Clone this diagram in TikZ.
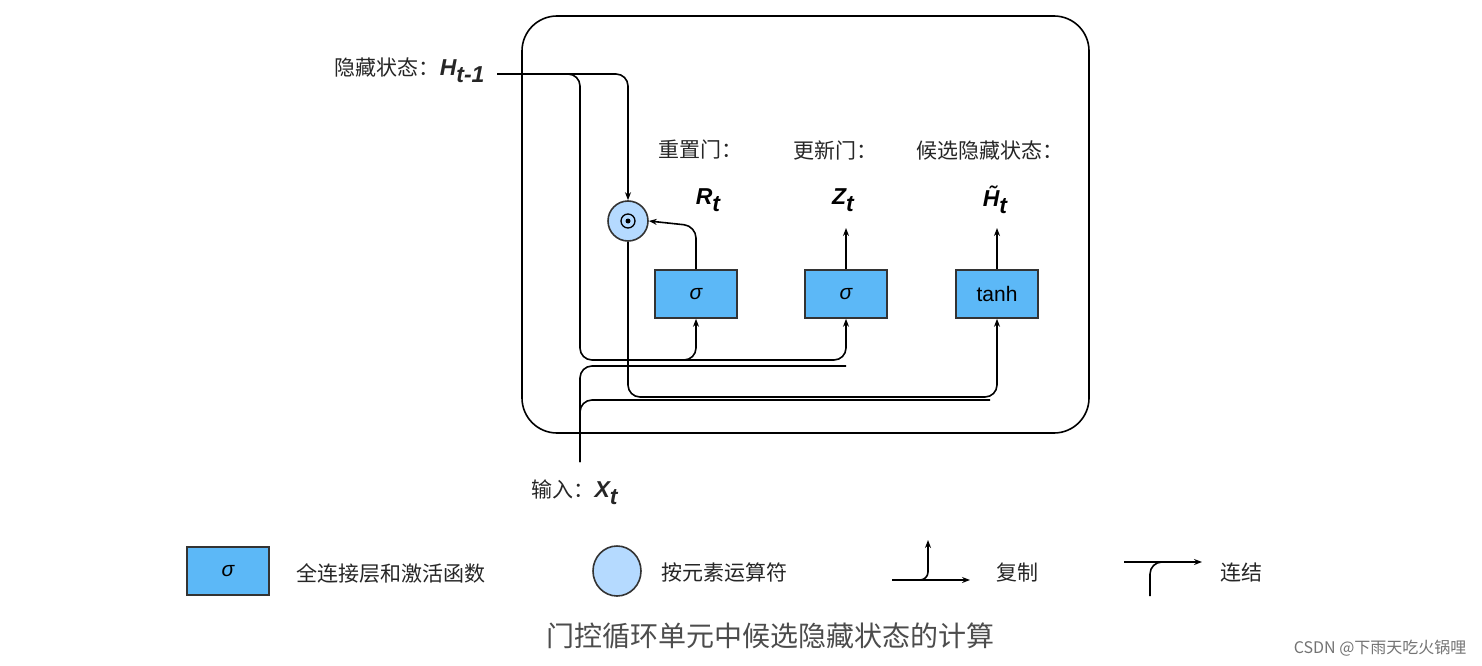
\documentclass[tikz,border=0pt]{standalone}
\usepackage{fontspec}
\setmainfont{Noto Sans CJK SC}
\newfontfamily\lib{Liberation Sans}
\usetikzlibrary{arrows.meta,shapes.geometric}
\definecolor{fcblue}{HTML}{5CB8F7}
\definecolor{opblue}{HTML}{B5DAFF}
\begin{document}
\begin{tikzpicture}[x=1pt,y=-1pt,
  fc/.style={draw=black!80,line width=1.6pt,fill=fcblue,minimum width=82pt,minimum height=48pt,inner sep=0pt,font=\fontsize{21}{22}\selectfont\lib},
  op/.style={circle,draw=black!80,line width=1.6pt,fill=opblue,minimum size=40pt,inner sep=0pt},
  ln/.style={line width=1.6pt,rounded corners=12pt},
  ar/.style={ln,-{Stealth[length=8pt,width=6pt]}},
  lab/.style={font=\fontsize{21}{24}\selectfont,text=black!85},
  sym/.style={font=\fontsize{23}{24}\selectfont\lib\bfseries\itshape}]
\useasboundingbox (0,0) rectangle (1482,666);
\draw[line width=1.6pt,rounded corners=35pt] (522,16) rectangle (1089,433);
\node[fc] (s1) at (696,294) {\itshape σ};
\node[fc] (s2) at (846,294) {\itshape σ};
\node[fc] (th) at (997,294) {tanh};
\node[op] (op) at (628,221) {};
\fill (628,221) circle (2.5pt);
\draw[line width=1.3pt] (628,221) circle (7pt);
\node[lab,anchor=east] (hl) at (488,70) {隐藏状态：{\lib\bfseries\itshape\fontsize{23}{24}\selectfont H\raisebox{-7pt}{t-1}}};
\coordinate (hs) at (497,74);
\coordinate (xs) at (580,462);
\node[lab] (rl) at (700,150) {重置门：};
\node[lab] (zl) at (835,150) {更新门：};
\node[lab] (hcl) at (990,150) {候选隐藏状态：};
\node[sym] (rt) at (708,200) {R\raisebox{-7pt}{t}};
\node[sym] (zt) at (843,200) {Z\raisebox{-7pt}{t}};
\node[sym] (ht) at (995,200) {\~{H}\raisebox{-7pt}{t}};
\node[lab,anchor=west] (xl) at (528,492) {输入：{\lib\bfseries\itshape\fontsize{23}{24}\selectfont X\raisebox{-7pt}{t}}};
% H_{t-1} to op
\draw[ar] (hs) -- (628,74) -- (op.north);
% H branch
\draw[ln] (hs) -- (580,74) -- (580,360) -- (696,360);
\draw[ar] (650,360) -- (696,360) -- (s1.south);
\draw[ar] (690,360) -- (846,360) -- (s2.south);
% X
\draw[ln] (xs) -- (580,366) -- (700,366) -- (846,366);
\draw[ln] (xs) -- (580,400) -- (990,400);
% op to tanh
\draw[ar] (op.south) -- (628,397) -- (997,397) -- (th.south);
% s1 to op
\draw[ar] (s1.north) -- (696,226) -- (op.east);
\draw[ar] (s2.north) -- (846,228);
\draw[ar] (th.north) -- (997,228);
% legend
\node[fc] (ls) at (228,571) {\itshape σ};
\node[lab,anchor=west] (lt1) at (293,573) {全连接层和激活函数};
\node[ellipse,draw=black!80,line width=1.6pt,fill=opblue,minimum width=48pt,minimum height=50pt,inner sep=0pt] (lo) at (617,571) {};
\node[lab,anchor=west] (lt2) at (658,573) {按元素运算符};
\coordinate (c1) at (892,580); \coordinate (c2) at (970,580); \coordinate (c3) at (928,540);
\draw[ar] (c1) -- (c2);
\draw[ar,rounded corners=8pt] (915,580) -- (928,580) -- (c3);
\node[lab,anchor=west] (lt3) at (993,573) {复制};
\coordinate (d1) at (1124,562); \coordinate (d2) at (1202,562); \coordinate (d3) at (1150,596);
\draw[ar] (d1) -- (d2);
\draw[ln] (d3) -- (1150,562) -- (1175,562);
\node[lab,anchor=west] (lt4) at (1217,573) {连结};
\node[font=\fontsize{28}{30}\selectfont,text=black!70] (cap) at (770,636) {门控循环单元中候选隐藏状态的计算};
\node[font=\fontsize{16}{16}\selectfont,text=black!55,anchor=east] (wm) at (1470,648) {CSDN @下雨天吃火锅哩};
\end{tikzpicture}
\end{document}
